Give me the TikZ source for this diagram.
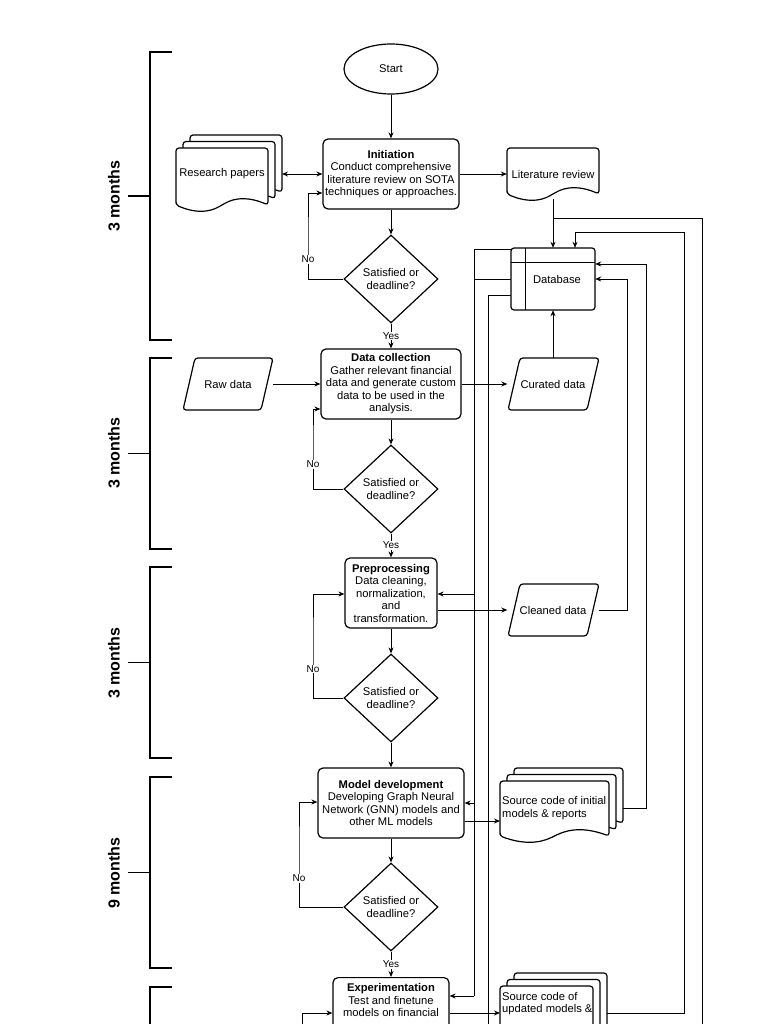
\documentclass[tikz,border=0pt]{standalone}
\usepackage{fontspec}
\setmainfont{Liberation Sans}
\usetikzlibrary{shapes.geometric,arrows.meta,calc}
\newcommand\wdoc[4]{% x1 y1 x2 y2
  \draw[shp] (#1,#4) -- (#1,#2) -- (#3,#2) -- (#3,#4)
    .. controls ({#3-0.2*(#3-#1)},{#4-8}) and ({#3-0.35*(#3-#1)},{#4-8}) .. ({0.5*(#1+#3)},#4)
    .. controls ({#1+0.35*(#3-#1)},{#4+8}) and ({#1+0.2*(#3-#1)},{#4+8}) .. cycle;}
\newcommand\mdoc[4]{\wdoc{#1+14}{#2-13}{#3+14}{#4-13}\wdoc{#1+7}{#2-6.5}{#3+7}{#4-6.5}\wdoc{#1}{#2}{#3}{#4}}
\newcommand\pgram[4]{\draw[shp] ({#1+12},#2) -- (#3,#2) -- ({#3-12},#4) -- (#1,#4) -- cycle;}
\begin{document}
\begin{tikzpicture}[x=1pt,y=-1pt,
  every node/.style={font=\fontsize{11.2}{12.5}\selectfont},
  shp/.style={draw,fill=white,line width=1.2pt,rounded corners=3pt,line join=round},
  box/.style={draw,fill=white,line width=1.2pt,rounded corners=5pt,align=center,inner sep=2pt},
  dia/.style={diamond,draw,fill=white,line width=1.2pt,inner sep=0pt,minimum width=94pt,minimum height=88pt,align=center},
  txt/.style={align=center,inner sep=0pt},
  lbl/.style={fill=white,inner sep=1pt,font=\fontsize{10}{11}\selectfont},
  arr/.style={-{Stealth[length=6pt,width=5pt]},line width=0.9pt},
  ln/.style={line width=0.9pt},
  brace/.style={line width=1.4pt},
  mon/.style={rotate=90,font=\fontsize{16}{18}\bfseries}]
\useasboundingbox (0,0) rectangle (768,1024);
\clip (0,0) rectangle (768,1024);
% month brackets
\foreach \a/\b in {52/340,358/549,567/758,777/968,987/1200}{
  \draw[brace] (172,\a) -- (150,\a) -- (150,\b) -- (172,\b);
  \draw[brace] (128,{(\a+\b)/2}) -- (150,{(\a+\b)/2});
}
\node[mon] (m1) at (114,196) {3 months};
\node[mon] (m2) at (114,453) {3 months};
\node[mon] (m3) at (114,663) {3 months};
\node[mon] (m4) at (114,873) {9 months};
% shapes drawn directly
\mdoc{176}{148}{268}{205}
\wdoc{507}{148}{599}{194}
\mdoc{500}{781}{609}{836}
\mdoc{500}{986}{593}{1040}
\pgram{183}{358}{273}{410}
\pgram{508}{358}{599}{410}
\pgram{508}{584}{599}{636}
\draw[shp] (511,248) rectangle (595,310);
\draw[ln] (511,262) -- (595,262) (525,248) -- (525,310);
% nodes
\node[ellipse,draw,line width=1.2pt,minimum width=94pt,minimum height=50pt] (start) at (391,69) {Start};
\node[box,minimum width=135pt,minimum height=70pt] (init) at (391,174) {\textbf{Initiation}\\Conduct comprehensive\\literature review on SOTA\\techniques or approaches.};
\node[txt,minimum width=106pt,minimum height=60pt] (rp) at (222,174) {Research papers};
\node[txt,minimum width=92pt,minimum height=50pt] (lit) at (553,174) {Literature review};
\node[dia] (d1) at (391,279) {Satisfied or\\deadline?};
\node[box,minimum width=140pt,minimum height=70pt] (dc) at (391,384) {\textbf{Data collection}\\Gather relevant financial\\data and generate custom\\data to be used in the\\analysis.};
\node[txt,minimum width=90pt,minimum height=52pt] (raw) at (228,384) {Raw data};
\node[txt,minimum width=91pt,minimum height=52pt] (cur) at (553,384) {Curated data};
\node[txt,minimum width=84pt,minimum height=62pt] (db) at (553,279) {\hspace*{14pt}Database\hspace*{6pt}};
\node[dia] (d2) at (391,489) {Satisfied or\\deadline?};
\node[box,minimum width=92pt,minimum height=70pt] (pre) at (391,593) {\textbf{Preprocessing}\\Data cleaning,\\normalization,\\and\\transformation.};
\node[txt,minimum width=91pt,minimum height=52pt] (cln) at (553,610) {Cleaned data};
\node[dia] (d3) at (391,698) {Satisfied or\\deadline?};
\node[box,minimum width=146pt,minimum height=70pt] (md) at (391,803) {\textbf{Model development}\\Developing Graph Neural\\Network (GNN) models and\\other ML models};
\node[txt,minimum height=60pt,align=left,anchor=west] (si) at (502,808) {Source code of initial\\models \& reports};
\node[dia] (d4) at (391,907) {Satisfied or\\deadline?};
\node[box,minimum width=116pt,minimum height=72pt,anchor=north,align=center] (exp) at (391,977) {\textbf{Experimentation}\\Test and finetune\\models on financial\\[14pt]};
\node[txt,minimum height=20pt,align=left,anchor=north west] (up) at (502,992) {Source code of\\updated models \&};
% coordinates
\coordinate (rA) at (627,610);
\coordinate (rB) at (646,808);
\coordinate (rC) at (684,1013);
\coordinate (rD) at (702,1030);
\coordinate (lA) at (474,249);
\coordinate (lB) at (474,996);
\coordinate (lC) at (488,295);
\coordinate (lD) at (488,1030);
\coordinate (eIn) at (302,1030);
% main flow
\draw[arr] (start) -- (init);
\draw[{Stealth[length=6pt,width=5pt]}-{Stealth[length=6pt,width=5pt]},line width=0.9pt] (282,174) -- (init.west);
\draw[arr] (init) -- (lit);
\draw[arr] (init) -- (d1);
\draw[arr] (d1) -- node[lbl]{Yes} (dc);
\draw[arr] (raw) -- (dc);
\draw[arr] (dc) -- (cur);
\draw[arr] (cur) -- (db);
\draw[arr] (dc) -- (d2);
\draw[arr] (d2) -- node[lbl]{Yes} (pre);
\draw[arr] (pre.east |- cln) -- (cln.west);
\draw[arr] (pre) -- (d3);
\draw[arr] (d3) -- (md);
\draw[arr] (md.east |- 0,821) -- (500,821);
\draw[arr] (md) -- (d4);
\draw[arr] (d4) -- node[lbl]{Yes} (exp);
\draw[arr] (exp.east |- 0,1013) -- (500,1013);
% no loops
\draw[arr] (d1.west) -| (308,240) node[lbl,pos=0.75]{No} |- (init.west |- 0,193);
\draw[arr] (d2.west) -| (313,440) node[lbl,pos=0.75]{No} |- (dc.west |- 0,409);
\draw[arr] (d3.west) -| (313,640) node[lbl,pos=0.75]{No} |- (pre.west |- 0,594);
\draw[arr] (d4.west) -| (299,850) node[lbl,pos=0.75]{No} |- (md.west |- 0,802);
\draw[arr] (eIn) |- (exp.west |- 0,1013);
% database links
\draw[arr] (lit) -- (db);
\draw[arr] (cln.east) -- (rA) |- (db.east);
\draw[arr] (623,808) -- (rB) |- (db.east |- 0,264);
\draw[arr] (607,1013) -- (rC) |- (575,232) -- (db.north -| 575,0);
\draw[ln] (rD) |- (553,218);
\draw[ln] (511,249.5) -- (474,249.5) -- (lB);
\draw[ln] (db.west) -- (lA |- db.west);
\draw[arr] (lA |- 0,594) -- (pre.east |- 0,594);
\draw[arr] (lA |- 0,803) -- (md.east |- 0,803);
\draw[arr] (lB) -- (exp.east |- lB);
\draw[ln] (db.west |- lC) -- (lC) -- (lD);
\end{tikzpicture}
\end{document}
